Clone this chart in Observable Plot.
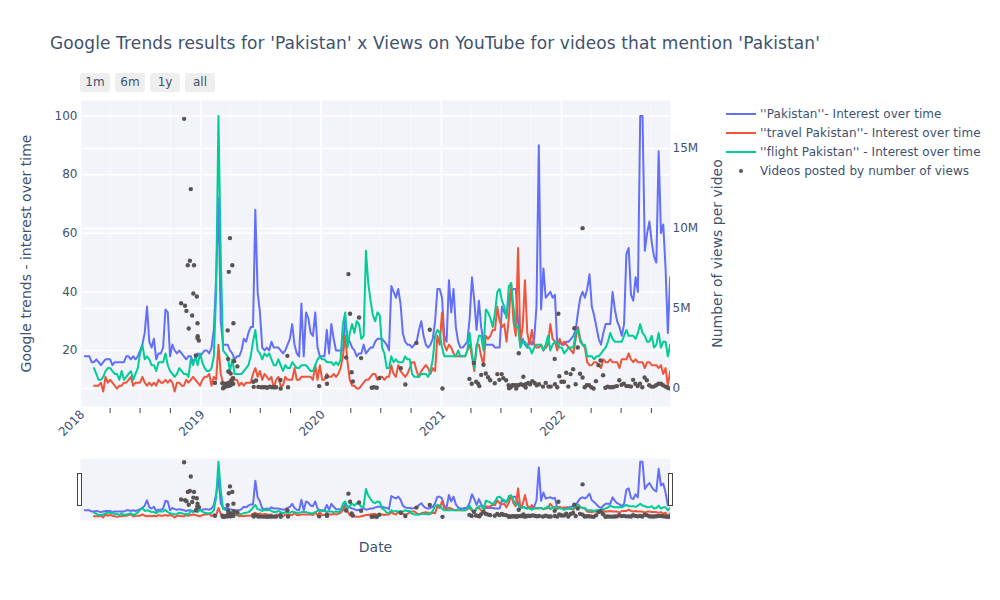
<!DOCTYPE html>
<html>
<head>
<meta charset="utf-8">
<script src="https://cdn.jsdelivr.net/npm/d3@7"></script>
<script src="https://cdn.jsdelivr.net/npm/@observablehq/plot@0.6"></script>
<style>
  html,body{margin:0;padding:0;background:#fff;}
  #page{position:relative;width:1000px;height:600px;overflow:hidden;font-family:"DejaVu Sans",sans-serif;color:#40526f;}
  #page svg{position:absolute;left:0;background:transparent;}
  .abs{position:absolute;white-space:nowrap;}
  .btn{position:absolute;top:73px;height:19px;width:30px;background:#eee;border-radius:3px;font-size:12px;line-height:19px;text-align:center;}
  .lg{position:absolute;left:760px;font-size:12px;line-height:16px;white-space:nowrap;letter-spacing:.07px;}
  .sw{position:absolute;left:726px;width:30px;height:2px;}
  .handle{position:absolute;top:473px;width:3px;height:31px;background:#fff;border:1px solid #444;}
</style>
</head>
<body>
<div id="page"></div>
<script>
const titleText = "Google Trends results for 'Pakistan' x Views on YouTube for videos that mention 'Pakistan'";
const yLabel = "Google trends - interest over time";
const y2Label = "Number of views per video";
const xLabel = "Date";
const buttonLabels = ["1m","6m","1y","all"];
const seriesNames = ["''Pakistan''- Interest over time","''travel Pakistan''- Interest over time","''flight Pakistan'' - Interest over time","Videos posted by number of views"];
const seriesColors = ["#636efa","#ef553b","#00cc96","#5a5353"];

const pakistan = [
18,18,18,16,16,17,16,15,16,17,
17,17,15,16,16,16,16,16,18,18,
17,18,17,18,20,22,26,35,23,21,
24,17,19,19,21,34,33,18,22,20,
19,20,19,18,17,18,18,16,17,19,
18,19,20,20,19,21,27,45,72,30,
22,22,22,20,19,17,18,18,20,24,
23,26,28,28,68,40,33,21,20,21,
20,23,21,21,21,20,19,20,22,24,
29,22,19,18,36,18,33,31,26,25,
33,21,18,18,18,27,19,29,24,20,
20,20,20,31,24,23,21,20,18,19,
19,22,19,20,21,21,23,24,24,24,
23,22,20,42,40,38,41,36,26,23,
22,22,21,22,23,27,30,25,22,21,
22,24,30,41,41,38,25,23,44,33,
41,28,23,21,21,22,23,31,45,37,
27,37,28,23,22,22,22,22,21,21,
21,35,33,32,38,40,41,41,30,22,
24,22,21,24,22,24,35,90,34,48,
38,39,40,38,39,22,23,22,22,23,
23,24,25,27,33,38,40,38,41,46,
35,32,28,24,22,26,29,29,29,40,
34,30,28,25,29,53,55,39,37,45,
40,100,100,54,60,64,57,52,50,88,
60,63,48,26,45];

const travel = [
null,null,null,null,8,8,8,9,6,11,
9,10,9,8,7,8,8,9,9,10,
11,8,9,9,9,11,9,8,9,8,
9,8,10,9,9,10,9,10,9,6,
9,9,8,8,10,9,10,11,10,9,
8,10,11,11,12,8,11,10,22,12,
9,9,8,10,11,10,10,8,9,8,
9,9,9,12,14,11,13,10,12,11,
10,11,7,10,11,8,8,11,10,10,
10,14,10,10,11,11,11,11,11,10,
15,10,15,10,10,12,11,11,12,11,
12,14,18,25,16,10,8,8,7,7,
8,9,10,10,11,12,12,10,11,11,
10,11,11,15,12,11,15,13,12,11,
12,14,16,16,13,11,13,14,15,14,
12,14,13,25,22,33,22,20,22,21,
19,18,18,18,18,18,20,22,18,13,
22,22,18,15,25,24,25,27,27,35,
30,28,29,23,31,43,30,25,55,23,
28,44,26,22,27,22,21,21,22,20,
21,22,29,24,23,20,24,22,23,22,
21,20,19,24,28,24,22,21,16,15,
15,16,16,15,14,17,16,16,17,16,
16,16,14,17,17,17,19,17,16,17,
16,16,16,14,16,16,15,15,15,14,
15,12,14,8,13];

const flight = [
null,null,null,null,14,12,10,10,11,13,
14,14,13,12,12,10,13,10,11,12,
13,10,12,14,19,22,17,18,17,15,
15,13,16,16,16,19,15,13,12,11,
12,14,13,12,12,11,17,15,18,15,
19,16,14,13,13,14,18,40,100,52,
20,19,18,13,17,12,12,12,12,13,
14,15,18,23,27,20,19,17,19,18,
19,17,15,15,17,15,13,15,14,14,
16,15,14,14,15,15,15,14,13,13,
15,17,18,17,17,16,16,16,15,16,
15,17,29,33,21,26,29,26,30,29,
24,25,54,43,37,32,30,33,32,21,
19,14,14,18,16,17,16,16,16,18,
17,17,12,11,11,11,12,12,12,11,
13,17,25,27,26,21,18,18,18,18,
18,18,20,18,18,18,20,26,19,14,
21,25,25,20,34,33,31,28,33,40,
41,37,35,31,42,43,35,28,28,21,
23,23,21,21,19,21,22,22,22,20,
22,25,20,22,23,23,21,21,19,20,
21,21,21,26,27,23,22,22,18,18,
18,17,18,18,19,20,21,23,26,24,
23,23,23,23,25,27,25,25,25,24,
26,29,26,25,23,23,25,21,22,26,
21,23,23,18,22];

// week position of each video (weeks after the first trends sample) and its views in millions
const videoWeek = [
43.1,46,45.6,44.7,47.4,47.1,48.6,41.8,43.5,44.1,46.6,48.9,45.1,49,48.9,49.5,48.2,56.5,
63,64,62.5,64.5,62,62.2,64.8,66.2,62.3,63.3,64.4,63.8,59.7,61.2,62.3,63.3,64.4,60.4,60,61.2,62.2,63.3,
73.2,74.3,73.3,75.3,76.5,77.5,78.5,79.2,80.3,81.1,82.1,83,84.9,85,87.9,88.2,101.7,105,105.1,113.4,114.4,115.1,119,119.9,115.8,116.3,
124.5,125.5,126.7,127.8,137.1,139.1,143.9,149.7,155.2,166.9,167.9,168.8,169.8,170.7,171.2,173,172,174,175,175.9,177.9,179,180.9,179.9,181.6,182.8,
183.9,184.1,184.8,185.5,186.2,187.2,187.2,188.1,189.2,190.3,190.3,191.3,191.3,192.4,193.2,194.2,195.2,196.1,197.1,188.3,
198.8,200,201.2,202.2,204,205,203.9,205.5,205.9,206.8,207.9,208.9,209.8,210.8,211.9,213,212.4,213.9,214.9,216,216,216.9,217.8,218.8,219.8,220.8,221.8,222.9,223.8,224.9,
225.9,226.9,227.9,228.9,229.9,230.9,231.9,232.9,233.9,235,236,237,237.9,238.9,239.9,240.9,241.9,242.9,243.9,244.9,245.9,246.9,247.9,248.9,250,250.9,251.9,252.9,253.9];
const videoViews = [
16.85,12.46,7.98,7.7,7.7,5.94,5.75,5.33,5.17,4.85,4.56,4.08,3.75,3.27,3.15,3,2.06,0.35,
9.4,7.7,7.29,4.08,3.63,1.85,1.71,1.38,1.06,0.94,0.65,0.5,0.33,0.3,0.35,0.3,0.3,0.08,0.02,0.12,0.15,0.2,
0.42,0.5,0.1,0.1,0.08,0.08,0.08,0.05,0.12,0.08,0.08,0.08,0.53,0,2.04,0.08,0.15,0.73,0.3,1.94,7.15,4.67,4.44,1.9,1.02,0.44,
0.05,0.08,0.05,0.65,1.27,0.25,2.85,3.67,0,0.6,0.3,1.6,0.42,0.3,0.15,1.48,0.85,0.94,0.7,0.52,0.33,0.9,0.9,0.54,0.65,0.52,
0.2,0.02,0.08,0.2,0.2,0.2,0,0.2,0.27,0.73,0.2,0.27,0.06,0.35,0.27,0.46,0.35,0.2,0.27,2.2,
0.12,0.35,0.12,0.12,0.27,0.08,1.85,4.67,0.77,0.42,0.42,0.98,0.12,0.9,1.21,0.27,3.77,2.56,0.92,0.69,10.02,0.08,0.2,0.2,0.08,0,0.46,1.46,1.75,0.83,
0.05,0.12,0.08,0.08,0.12,0.15,0.52,0.23,0.3,0.15,0.15,0.12,0.54,0.3,0.15,0.3,0.08,0.69,0.52,0.2,0.12,0.12,0.2,0.3,0.3,0.2,0.12,0.05,0];

const leftTicks = [20,40,60,80,100];
const rightTicks = [0,5,10,15];
const yearTicks = [2018,2019,2020,2021,2022];

const firstWeek = new Date(Date.UTC(2018,0,14));
const weeks = pakistan.map((_,i)=>d3.utcDay.offset(firstWeek, i*7));
const xDomain = [new Date(Date.UTC(2018,0,1)), new Date(Date.UTC(2022,10,28))];
const yDomain = [0.89,105.3];
// the right axis (millions of views) shares the frame of the left axis
const viewsToTrend = m => 7.03 + 5.46*m;
const years = yearTicks.map(y=>new Date(Date.UTC(y,0,1)));
const quarters = d3.utcMonth.range(xDomain[0], xDomain[1], 3).filter(d=>d.getUTCMonth()!==0);
const videos = videoWeek.map((w,i)=>({date:new Date(+firstWeek + w*7*864e5), y:viewsToTrend(videoViews[i])}));

function dataMarks(){
  return [
    Plot.line(pakistan,{x:weeks,y:pakistan,stroke:seriesColors[0],strokeWidth:2,clip:true}),
    Plot.line(travel,{x:weeks,y:travel,stroke:seriesColors[1],strokeWidth:2,clip:true}),
    Plot.line(flight,{x:weeks,y:flight,stroke:seriesColors[2],strokeWidth:2,clip:true}),
    Plot.dot(videos,{x:"date",y:"y",r:2.2,fill:seriesColors[3],stroke:"none",clip:true})
  ];
}
const bg = "#f2f4f9";
const ink = "#40526f";
const mainPlot = Plot.plot({
  width:1000,height:440,marginLeft:80,marginRight:330,marginTop:100,marginBottom:34,
  style:{fontFamily:"'DejaVu Sans',sans-serif",fontSize:"12px",color:ink,background:"transparent"},
  x:{type:"utc",domain:xDomain},
  y:{domain:yDomain},
  marks:[
    Plot.frame({fill:bg,stroke:"none"}),
    Plot.ruleX(quarters,{x:d=>d,stroke:"#f9fafc",strokeWidth:1}),
    Plot.ruleX(years,{x:d=>d,stroke:"#fff",strokeWidth:1.5}),
    Plot.ruleY(leftTicks,{y:d=>d,stroke:"#fff",strokeWidth:1.5}),
    Plot.ruleY(rightTicks.map(viewsToTrend),{y:d=>d,stroke:"#fff",strokeWidth:1.5}),
    ...dataMarks(),
    Plot.axisY(leftTicks,{anchor:"left",tickSize:0,tickPadding:3,label:null,fontSize:12}),
    Plot.axisY(rightTicks.map(viewsToTrend),{anchor:"right",tickSize:0,tickPadding:2,label:null,fontSize:12,
      tickFormat:d=>{const m=Math.round((d-7.03)/5.46);return m===0?"0":m+"M";}}),
    Plot.axisX(quarters,{anchor:"bottom",tickSize:5,dy:2,stroke:"#444",tickFormat:()=>"",label:null}),
    Plot.axisX(years,{anchor:"bottom",tickSize:0,tickRotate:-45,tickPadding:6,dx:2,tickFormat:d=>String(d.getUTCFullYear()),label:null,fontSize:12}),
    Plot.text([yLabel],{frameAnchor:"left",dx:-54,rotate:-90,textAnchor:"middle",fontSize:14,fill:ink}),
    Plot.text([y2Label],{frameAnchor:"right",dx:47,rotate:-90,textAnchor:"middle",fontSize:14,fill:ink})
  ]
});
const sliderPlot = Plot.plot({
  width:1000,height:160,marginLeft:80,marginRight:330,marginTop:18,marginBottom:80,
  style:{fontFamily:"'DejaVu Sans',sans-serif",fontSize:"12px",color:ink,background:"transparent"},
  x:{type:"utc",domain:xDomain,axis:null},
  y:{domain:yDomain,axis:null},
  marks:[
    Plot.frame({fill:bg,stroke:"none"}),
    ...dataMarks(),
    Plot.text([xLabel],{frameAnchor:"bottom",dy:31,textAnchor:"middle",fontSize:14,fill:ink})
  ]
});
const page = document.getElementById("page");
mainPlot.style.top="0px"; sliderPlot.style.top="440px";
page.append(mainPlot, sliderPlot);

function add(cls, css, text){
  const d=document.createElement("div");
  d.className=cls; d.style.cssText=css; if(text!=null) d.textContent=text;
  page.append(d); return d;
}
add("abs","left:50px;top:31px;font-size:17px;line-height:24px;letter-spacing:.11px;",titleText);
buttonLabels.forEach((b,i)=>add("btn",`left:${[80,115,150,185][i]}px;`,b));
seriesNames.forEach((n,i)=>{
  const cy=[114,133,152,171][i];
  if(i<3) add("sw",`top:${cy-1}px;background:${seriesColors[i]};`);
  else add("sw",`top:${cy-2}px;left:739px;width:4px;height:4px;border-radius:50%;background:${seriesColors[i]};`);
  add("lg",`top:${cy-8}px;`,n);
});
add("handle","left:77px;");
add("handle","left:668px;");
</script>
</body>
</html>
